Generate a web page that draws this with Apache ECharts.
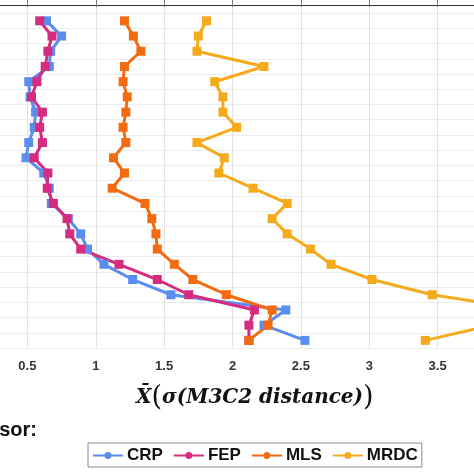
<!DOCTYPE html>
<html>
<head>
<meta charset="utf-8">
<script src="https://cdn.jsdelivr.net/npm/echarts@6/dist/echarts.min.js"></script>
<style>
  html, body { margin: 0; padding: 0; background: #fff; }
  #chart { width: 474px; height: 474px; }
</style>
</head>
<body>
<div id="chart"></div>
<script>
// levels (top to bottom)
var levels = [1, 2, 3, 4, 5, 6, 7, 8, 9, 10, 11, 12, 13, 14, 15, 16, 17, 18, 19, 20, 21, 22]
var names = ['CRP', 'FEP', 'MLS', 'MRDC']
var colors = ['#5b8def', '#d52c7f', '#f26b11', '#f5aa1c']

var crp = [0.64, 0.75, 0.67, 0.66, 0.51, 0.52, 0.56, 0.55, 0.51, 0.49, 0.62, 0.66, 0.675, 0.80, 0.89, 0.94, 1.06, 1.27, 1.55, 2.39, 2.23, 2.53]
var fep = [0.59, 0.68, 0.65, 0.63, 0.57, 0.53, 0.61, 0.59, 0.61, 0.55, 0.65, 0.645, 0.69, 0.79, 0.81, 0.89, 1.17, 1.45, 1.68, 2.16, 2.12, 2.12]
var mls = [1.21, 1.275, 1.33, 1.21, 1.20, 1.23, 1.22, 1.20, 1.22, 1.13, 1.21, 1.12, 1.36, 1.41, 1.44, 1.45, 1.575, 1.71, 1.955, 2.29, 2.26, 2.12]
var mrdc = [1.81, 1.75, 1.74, 2.23, 1.87, 1.93, 1.93, 2.03, 1.74, 1.94, 1.90, 2.15, 2.40, 2.29, 2.40, 2.57, 2.72, 3.02, 3.46, 4.17, 3.90, 3.41]

var xTicks = [0.5, 1, 1.5, 2, 2.5, 3, 3.5]

var values = [crp, fep, mls, mrdc]
var series = []
for (var s = 0; s < values.length; s++) {
  var pts = []
  for (var i = 0; i < levels.length; i++) {
    pts.push([values[s][i], levels[i]])
  }
  series.push({
    name: names[s],
    type: 'line',
    data: pts,
    symbol: 'rect',
    symbolSize: 9,
    color: colors[s],
    lineStyle: { width: 3, color: colors[s] },
    itemStyle: { color: colors[s] },
    animation: false
  })
}

// line + dot legend icon
var icon = 'path://M0,3L30,3L30,5L0,5Z M15,0.5A3.5,3.5 0 1 1 14.99,0.5Z'

var chart = echarts.init(document.getElementById('chart'))
chart.setOption({
  animation: false,
  grid: { left: -41, right: -32, top: -2, bottom: 126, outerBoundsMode: 'none', containLabel: false },
  xAxis: [{
    type: 'value',
    min: 0,
    max: 4,
    interval: 0.5,
    axisLine: { show: true, lineStyle: { color: '#333', width: 1 } },
    axisTick: { show: true, inside: true, length: 7, lineStyle: { color: '#555' } },
    axisLabel: {
      margin: 12,
      color: '#333',
      fontWeight: 'bold',
      fontSize: 13,
      fontFamily: 'Liberation Sans, Arial, sans-serif',
      formatter: function (v) { return xTicks.indexOf(v) >= 0 ? String(v) : '' }
    },
    splitLine: { show: true, lineStyle: { color: '#e3e3e3', width: 1 } }
  }, {
    type: 'value',
    position: 'top',
    min: 0,
    max: 4,
    interval: 0.5,
    axisLine: { show: false },
    axisTick: { show: true, inside: true, length: 9, lineStyle: { color: '#777' } },
    axisLabel: { show: false },
    splitLine: { show: false }
  }],
  yAxis: {
    type: 'value',
    inverse: true,
    min: -0.5,
    max: 22.5,
    interval: 1,
    axisLine: { show: false },
    axisTick: { show: false },
    axisLabel: { show: false },
    splitLine: { show: true, lineStyle: { color: '#ececec', width: 1 } }
  },
  legend: {
    left: 88,
    top: 443,
    data: names.map(function (n) { return { name: n, icon: icon } }),
    itemWidth: 30,
    itemHeight: 8,
    itemGap: 11,
    padding: [4, 4, 3, 5],
    borderColor: '#8a8a8a',
    borderWidth: 1,
    textStyle: {
      color: '#111',
      fontWeight: 'bold',
      fontSize: 17,
      fontFamily: 'Liberation Sans, Arial, sans-serif',
      padding: [0, 0, 0, -1]
    }
  },
  graphic: [{
    type: 'text',
    left: 136,
    top: 384,
    style: {
      text: '{b|X\u0304}{p|(}{b|σ(M3C2 distance)}{p|)}',
      rich: {
        b: { fontFamily: 'DejaVu Serif, serif', fontStyle: 'italic', fontWeight: 'bold', fontSize: 20, fill: '#111' },
        p: { fontFamily: 'DejaVu Serif, serif', fontSize: 27, fill: '#111' }
      }
    }
  }, {
    type: 'text',
    right: 437,
    top: 420,
    style: {
      text: 'Sensor:',
      fontFamily: 'Liberation Sans, Arial, sans-serif',
      fontWeight: 'bold',
      fontSize: 20,
      fill: '#111'
    }
  }],
  series: series
})
</script>
</body>
</html>
